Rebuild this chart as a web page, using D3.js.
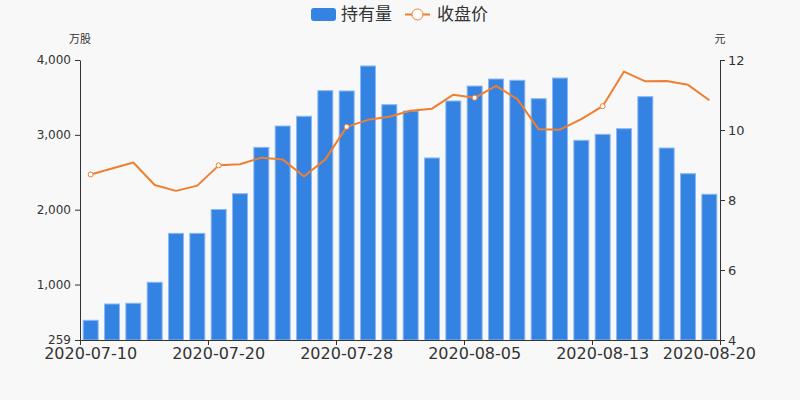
<!DOCTYPE html>
<html>
<head>
<meta charset="utf-8">
<script src="https://cdn.jsdelivr.net/npm/d3@7/dist/d3.min.js"></script>
<style>
  body { margin: 0; background: #f8f8f8; }
  text { font-family: "DejaVu Sans", "Noto Sans CJK SC", sans-serif; fill: #333; }
  .cjk { font-family: "Noto Sans CJK SC", "DejaVu Sans", sans-serif; }
</style>
</head>
<body>
<div class="canvas"></div>
<script>
// data
const dates = ['2020-07-10', '2020-07-13', '2020-07-14', '2020-07-15', '2020-07-16', '2020-07-17',
  '2020-07-20', '2020-07-21', '2020-07-22', '2020-07-23', '2020-07-24',
  '2020-07-27', '2020-07-28', '2020-07-29', '2020-07-30', '2020-07-31',
  '2020-08-03', '2020-08-04', '2020-08-05', '2020-08-06', '2020-08-07',
  '2020-08-10', '2020-08-11', '2020-08-12', '2020-08-13', '2020-08-14',
  '2020-08-17', '2020-08-18', '2020-08-19', '2020-08-20'];
const holdings = [522, 740, 750, 1030, 1684, 1684, 2003, 2214, 2833, 3118, 3248,
  3590, 3586, 3920, 3403, 3318, 2691, 3452, 3652, 3746, 3729,
  3483, 3759, 2927, 3007, 3082, 3510, 2824, 2481, 2206];
const closePrice = [8.73, 8.9, 9.07, 8.43, 8.26, 8.41, 8.99, 9.02, 9.21, 9.16, 8.67,
  9.16, 10.09, 10.29, 10.38, 10.55, 10.61, 11.01, 10.92, 11.26, 10.88,
  10.02, 10.01, 10.31, 10.68, 11.67, 11.39, 11.4, 11.29, 10.85];
const leftTicks = [259, 1000, 2000, 3000, 4000];
const rightTicks = [4, 6, 8, 10, 12];
const labelIdx = [0, 6, 12, 18, 24, 29];
const boundaryIdx = [0, 6, 12, 18, 24, 30];

const svg = d3.select('.canvas')
  .append('svg')
  .attr('width', 800)
  .attr('height', 400);

svg.append('rect').attr('width', 800).attr('height', 400).attr('fill', '#f8f8f8');

const margin = { top: 60, right: 80, bottom: 60, left: 80 };
const graphWidth = 800 - margin.left - margin.right;
const graphHeight = 400 - margin.top - margin.bottom;

const graph = svg.append('g')
  .attr('transform', `translate(${margin.left},${margin.top})`);

const x = d3.scaleBand()
  .domain(dates)
  .range([0, graphWidth])
  .paddingInner(0.3)
  .paddingOuter(0.15);
// plain band scale (no padding) for centres / boundaries
const xb = d3.scaleBand().domain(dates).range([0, graphWidth]);
const xi = d3.scaleLinear().domain([0, dates.length]).range([0, graphWidth]);

const y = d3.scaleLinear().domain([259, 4000]).range([graphHeight, 0]);
const y2 = d3.scaleLinear().domain([4, 12]).range([graphHeight, 0]);

// bars
graph.selectAll('rect.bar')
  .data(holdings)
  .enter()
  .append('rect')
  .attr('class', 'bar')
  .attr('x', (d, i) => xb(dates[i]) + xb.bandwidth() / 2 - 7.5)
  .attr('width', 15)
  .attr('y', d => y(d))
  .attr('height', d => graphHeight - y(d))
  .attr('fill', '#3483e3')
  .attr('stroke', '#8cb9ef')
  .attr('stroke-width', 1);

// line
const line = d3.line()
  .x((d, i) => xb(dates[i]) + xb.bandwidth() / 2)
  .y(d => y2(d));

graph.append('path')
  .datum(closePrice)
  .attr('fill', 'none')
  .attr('stroke', '#ef7f30')
  .attr('stroke-width', 2)
  .attr('stroke-linejoin', 'round')
  .attr('d', line);

graph.selectAll('circle.dot')
  .data(labelIdx.slice(0, 5))
  .enter()
  .append('circle')
  .attr('class', 'dot')
  .attr('cx', i => xb(dates[i]) + xb.bandwidth() / 2)
  .attr('cy', i => y2(closePrice[i]))
  .attr('r', 2.5)
  .attr('fill', '#fff')
  .attr('stroke', '#ef7f30')
  .attr('stroke-width', 1);

// axes
const styleAxis = g => {
  g.selectAll('.domain').attr('stroke', '#333');
  g.selectAll('.tick line').attr('stroke', '#333');
};

const yAxisGroup = graph.append('g')
  .call(d3.axisLeft(y).tickValues(leftTicks).tickFormat(d3.format(',')).tickSize(5).tickSizeOuter(0).tickPadding(4))
  .call(styleAxis);
yAxisGroup.selectAll('text').attr('font-size', 12).attr('fill', '#333');

const y2AxisGroup = graph.append('g')
  .attr('transform', `translate(${graphWidth},0)`)
  .call(d3.axisRight(y2).tickValues(rightTicks).tickSize(5).tickSizeOuter(0).tickPadding(3))
  .call(styleAxis);
y2AxisGroup.selectAll('text').attr('font-size', 13).attr('fill', '#333');

const xAxisGroup = graph.append('g')
  .attr('transform', `translate(0,${graphHeight})`)
  .call(d3.axisBottom(xi).tickValues(boundaryIdx).tickFormat('').tickSize(5).tickSizeOuter(0))
  .call(styleAxis);

const xLabelGroup = graph.append('g')
  .attr('transform', `translate(0,${graphHeight})`)
  .call(d3.axisBottom(xb).tickValues(labelIdx.map(i => dates[i])).tickSize(0).tickPadding(8));
xLabelGroup.select('.domain').remove();
xLabelGroup.selectAll('text').attr('font-size', 16).attr('fill', '#333');

// unit labels
svg.append('text').attr('class', 'cjk')
  .attr('x', 80).attr('y', 43)
  .attr('text-anchor', 'middle').attr('font-size', 11)
  .text('万股');
svg.append('text').attr('class', 'cjk')
  .attr('x', 720).attr('y', 43)
  .attr('text-anchor', 'middle').attr('font-size', 11)
  .text('元');

// legend
const legend = svg.append('g');
legend.append('rect')
  .attr('x', 311).attr('y', 8).attr('width', 25).attr('height', 13).attr('rx', 3)
  .attr('fill', '#3483e3');
legend.append('text').attr('class', 'cjk')
  .attr('x', 341).attr('y', 20).attr('font-size', 17)
  .text('持有量');
legend.append('line')
  .attr('x1', 405).attr('x2', 430).attr('y1', 14.5).attr('y2', 14.5)
  .attr('stroke', '#ef7f30').attr('stroke-width', 2);
legend.append('circle')
  .attr('cx', 417.5).attr('cy', 14.5).attr('r', 5.5)
  .attr('fill', '#fff').attr('stroke', '#ef7f30').attr('stroke-width', 1);
legend.append('text').attr('class', 'cjk')
  .attr('x', 437).attr('y', 20).attr('font-size', 17)
  .text('收盘价');
</script>
</body>
</html>
